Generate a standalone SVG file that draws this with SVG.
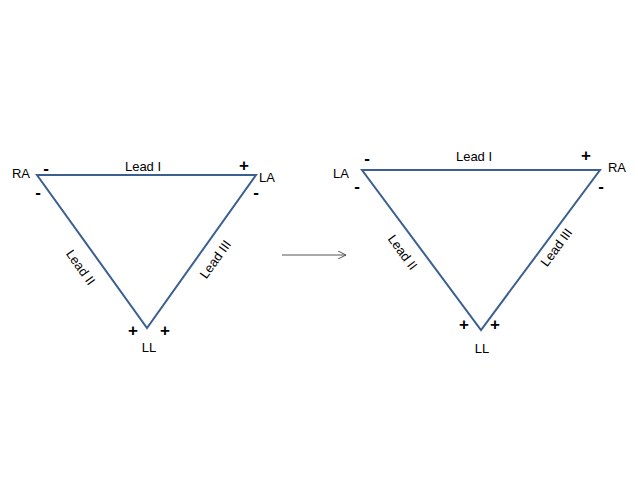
<svg xmlns="http://www.w3.org/2000/svg" width="638" height="478" viewBox="0 0 638 478">
<style>
.tri{fill:none;stroke:#3c5f92;stroke-width:2}
text{font-family:"Liberation Sans",Arial,sans-serif;font-size:13px;fill:#000;text-anchor:middle}
.s{font-size:17px;font-weight:bold}
</style>
<defs><marker id="ah" markerWidth="10" markerHeight="8" refX="8" refY="4" orient="auto" markerUnits="userSpaceOnUse"><path d="M0,0 L8,4 L0,8" fill="none" stroke="#555" stroke-width="1"/></marker></defs>
<rect width="638" height="478" fill="#fff"/>
<g id="left">
<polygon class="tri" points="37,175 256,175 147,328"/>
<text x="21" y="178">RA</text><text x="267" y="182">LA</text><text x="149" y="352">LL</text>
<text x="143" y="171">Lead I</text>
<text transform="translate(77,270) rotate(54.3)">Lead II</text>
<text transform="translate(219,262) rotate(-54.3)">Lead III</text>
<text class="s" x="46" y="174">-</text><text class="s" x="38" y="198">-</text><text class="s" x="256" y="198">-</text>
<text class="s" x="244" y="171">+</text><text class="s" x="133" y="336">+</text><text class="s" x="165" y="336">+</text>
</g>
<g id="right">
<polygon class="tri" points="362,170 600,170 481,330"/>
<text x="341" y="178">LA</text><text x="617" y="172">RA</text><text x="482" y="353">LL</text>
<text x="474" y="161">Lead I</text>
<text transform="translate(399,255) rotate(53.4)">Lead II</text>
<text transform="translate(560,250) rotate(-53.4)">Lead III</text>
<text class="s" x="367" y="164">-</text><text class="s" x="357" y="192">-</text><text class="s" x="601" y="192">-</text>
<text class="s" x="586" y="161">+</text><text class="s" x="464" y="330">+</text><text class="s" x="495" y="330">+</text>
</g>
<g id="connectors"><line x1="282" y1="255" x2="346" y2="255" stroke="#555" stroke-width="1" marker-end="url(#ah)"/></g>
</svg>
